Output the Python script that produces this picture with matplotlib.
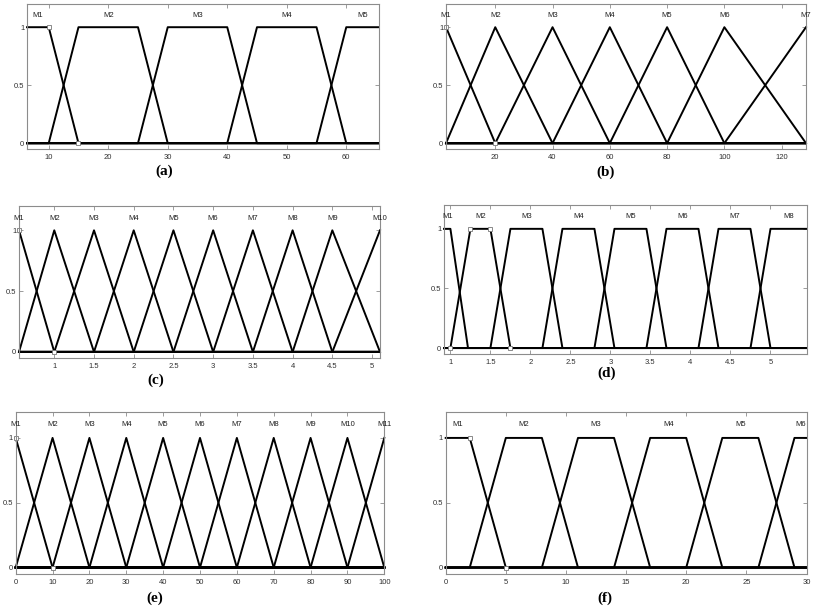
import matplotlib
matplotlib.use('Agg')
import matplotlib.pyplot as plt

# membership function breakpoints [a, b, c, d]  (triangles have b == c)
a_xlim = [6.35, 65.5]
a_ticks = [10, 20, 30, 40, 50, 60]
a_mf = [[6.35, 6.35, 10, 15],
        [10, 15, 25, 30],
        [25, 30, 40, 45],
        [40, 45, 55, 60],
        [55, 60, 65.5, 65.5]]

b_xlim = [2.8, 128.5]
b_ticks = [20, 40, 60, 80, 100, 120]
b_mf = [[2.8, 2.8, 2.8, 20],
        [2.8, 20, 20, 40],
        [20, 40, 40, 60],
        [40, 60, 60, 80],
        [60, 80, 80, 100],
        [80, 100, 100, 128.5],
        [100, 128.5, 128.5, 128.5]]

c_xlim = [0.556, 5.1]
c_ticks = [1, 1.5, 2, 2.5, 3, 3.5, 4, 4.5, 5]
c_mf = [[0.556, 0.556, 0.556, 1.0],
        [0.556, 1.0, 1.0, 1.5],
        [1.0, 1.5, 1.5, 2.0],
        [1.5, 2.0, 2.0, 2.5],
        [2.0, 2.5, 2.5, 3.0],
        [2.5, 3.0, 3.0, 3.5],
        [3.0, 3.5, 3.5, 4.0],
        [3.5, 4.0, 4.0, 4.5],
        [4.0, 4.5, 4.5, 5.1],
        [4.5, 5.1, 5.1, 5.1]]

d_xlim = [0.92, 5.45]
d_ticks = [1, 1.5, 2, 2.5, 3, 3.5, 4, 4.5, 5]
d_mf = [[0.92, 0.92, 1.0, 1.22],
        [1.0, 1.25, 1.5, 1.75],
        [1.5, 1.75, 2.15, 2.4],
        [2.15, 2.4, 2.8, 3.05],
        [2.8, 3.05, 3.45, 3.7],
        [3.45, 3.7, 4.1, 4.35],
        [4.1, 4.35, 4.75, 5.0],
        [4.75, 5.0, 5.45, 5.45]]

e_xlim = [0, 100]
e_ticks = [0, 10, 20, 30, 40, 50, 60, 70, 80, 90, 100]
e_mf = [[0, 0, 0, 10],
        [0, 10, 10, 20],
        [10, 20, 20, 30],
        [20, 30, 30, 40],
        [30, 40, 40, 50],
        [40, 50, 50, 60],
        [50, 60, 60, 70],
        [60, 70, 70, 80],
        [70, 80, 80, 90],
        [80, 90, 90, 100],
        [90, 100, 100, 100]]

f_xlim = [0, 30]
f_ticks = [0, 5, 10, 15, 20, 25, 30]
f_mf = [[0, 0, 2, 5],
        [2, 5, 8, 11],
        [8, 11, 14, 17],
        [14, 17, 20, 23],
        [20, 23, 26, 29],
        [26, 29, 30, 30]]

# highlighted (selected) mf vertices
a_sel = ([10, 15], [1, 0])
b_sel = ([2.8, 20], [1, 0])
c_sel = ([0.556, 1.0], [1, 0])
d_sel = ([1.0, 1.25, 1.5, 1.75], [0, 1, 1, 0])
e_sel = ([0, 10], [1, 0])
f_sel = ([2, 5], [1, 0])

captions = ['(a)', '(b)', '(c)', '(d)', '(e)', '(f)']

# axes boxes in pixels: left, right, top, bottom
W, H = 813, 608
boxes = [(27, 379, 4, 149), (446, 806, 4, 149),
         (19, 380, 206, 358), (444, 806.5, 205, 354),
         (15.7, 384.3, 412, 574), (445.7, 806.5, 412, 574)]
cap_pos = [(164, 171), (606, 172), (156, 380), (607, 373), (155, 598), (605, 598)]

panels = [(a_xlim, a_ticks, a_mf, a_sel), (b_xlim, b_ticks, b_mf, b_sel),
          (c_xlim, c_ticks, c_mf, c_sel), (d_xlim, d_ticks, d_mf, d_sel),
          (e_xlim, e_ticks, e_mf, e_sel), (f_xlim, f_ticks, f_mf, f_sel)]


def mf_vertices(p, xlim):
    a, b, c, d = p
    xs, ys = [], []
    if a > xlim[0]:
        xs.append(xlim[0])
        ys.append(0)
    if a < b:
        xs.append(a)
        ys.append(0)
    xs += [b, c]
    ys += [1, 1]
    if d > c:
        xs.append(d)
        ys.append(0)
    if d < xlim[1]:
        xs.append(xlim[1])
        ys.append(0)
    return xs, ys


plt.rcParams['font.family'] = ['Liberation Sans', 'DejaVu Sans']
fig = plt.figure(figsize=(W / 100, H / 100), dpi=100)
grey = '#8c8c8c'

for i, (xlim, ticks, mfs, sel) in enumerate(panels):
    l, r, t, b = boxes[i]
    ax = fig.add_axes([l / W, 1 - b / H, (r - l) / W, (b - t) / H])
    for k, p in enumerate(mfs):
        xs, ys = mf_vertices(p, xlim)
        ax.plot(xs, ys, color='black', lw=1.4, solid_joinstyle='round', clip_on=False)
        ax.text((p[1] + p[2]) / 2, 1.1, 'M%d' % (k + 1), ha='center', va='center',
                fontsize=5.5, color='#202020')
    ax.plot(sel[0], sel[1], ls='none', marker='s', ms=3, mfc='white', mec='#777777', mew=0.6,
            clip_on=False)
    ax.set_xlim(xlim)
    ax.set_ylim(-0.05, 1.2)
    ax.set_xticks(ticks)
    ax.set_xticklabels(['%g' % v for v in ticks])
    ax.set_yticks([0, 0.5, 1])
    ax.set_yticklabels(['0', '0.5', '1'])
    ax.tick_params(direction='in', length=3, width=0.6, color=grey, labelsize=5.5,
                   labelcolor='#303030', pad=2, top=True, right=True)
    ax.tick_params(axis='x', pad=3.5)
    for s in ax.spines.values():
        s.set_color(grey)
        s.set_linewidth(0.8)
    cx, cy = cap_pos[i]
    fig.text(cx / W, 1 - cy / H, captions[i], ha='center', va='center', fontsize=11,
             fontweight='bold', family=['Liberation Serif', 'DejaVu Serif'])

fig.savefig('out.png', dpi=100)
